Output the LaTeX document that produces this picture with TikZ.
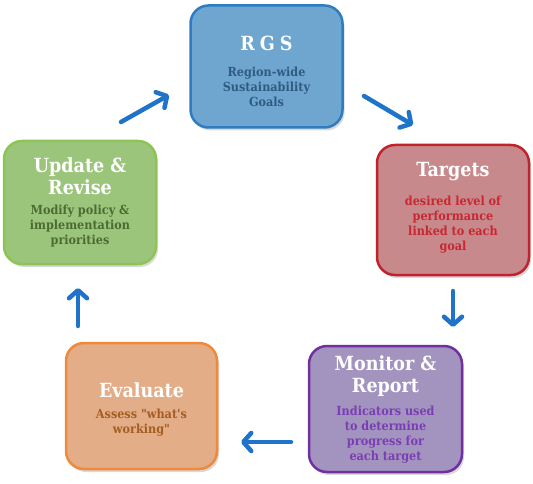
\documentclass[tikz,border=0pt]{standalone}
\usepackage{fontspec}
\setmainfont{DejaVu Serif Condensed}
\usetikzlibrary{arrows.meta,shadows}
\definecolor{rgsf}{HTML}{6EA6CF}\definecolor{rgsb}{HTML}{2E7CC1}\definecolor{rgst}{HTML}{2F5B82}
\definecolor{tarf}{HTML}{C8898C}\definecolor{tarb}{HTML}{C0232C}\definecolor{tart}{HTML}{C9272F}
\definecolor{monf}{HTML}{A394BF}\definecolor{monb}{HTML}{7030A0}\definecolor{mont}{HTML}{7B3DB3}
\definecolor{updf}{HTML}{9CC57C}\definecolor{updb}{HTML}{8DC453}\definecolor{updt}{HTML}{4B6B33}
\definecolor{evaf}{HTML}{E2AD87}\definecolor{evab}{HTML}{F0893A}\definecolor{evat}{HTML}{A65D22}
\definecolor{arr}{HTML}{1F74C9}
\begin{document}
\begin{tikzpicture}[x=1pt,y=-1pt,
  box/.style={rounded corners=18pt, line width=2.5pt, inner sep=0pt,
    drop shadow={opacity=0.3, shadow xshift=2pt, shadow yshift=-3pt}},
  ttl/.style={text=white, font=\fontsize{19.5}{22}\selectfont\bfseries, align=center, inner sep=0pt},
  sub/.style={font=\fontsize{12.5}{15}\selectfont\bfseries, align=center, inner sep=0pt},
  cyc/.style={draw=arr, line width=4.5pt, line cap=round,
    -{Straight Barb[length=8pt,width=18pt,round]}}]
\useasboundingbox (0,0) rectangle (533,484);
% boxes
\node[box, draw=rgsb, fill=rgsf, minimum width=152pt, minimum height=122pt] (rgs) at (266.5,66.5) {};
\node[box, draw=tarb, fill=tarf, minimum width=152pt, minimum height=130pt] (tar) at (453,210) {};
\node[box, draw=monb, fill=monf, minimum width=153pt, minimum height=126pt] (mon) at (385.5,409) {};
\node[box, draw=evab, fill=evaf, minimum width=151pt, minimum height=126pt] (eva) at (141.5,406) {};
\node[box, draw=updb, fill=updf, minimum width=152pt, minimum height=123pt] (upd) at (80,202.5) {};
% texts
\node[ttl] (rgsT) at (266.5,43) {R\kern5pt G\kern5pt S};
\node[sub, text=rgst] (rgsS) at (266.5,86.5) {Region-wide\\Sustainability\\Goals};
\node[ttl] (tarT) at (453,172) {Targets};
\node[sub, text=tart] (tarS) at (453,224.5) {desired level of\\performance\\linked to each\\goal};
\node[ttl] (monT) at (385.5,376) {Monitor \&\\Report};
\node[sub, text=mont] (monS) at (385.5,434.5) {Indicators used\\to determine\\progress for\\each target};
\node[ttl] (evaT) at (141.5,390) {Evaluate};
\node[sub, text=evat] (evaS) at (141.5,422.5) {Assess \textquotedbl what\textquotesingle s\\working\textquotedbl};
\node[ttl] (updT) at (80,176) {Update \&\\Revise};
\node[sub, text=updt] (updS) at (80,226) {Modify policy \&\\implementation\\priorities};
% arrows
\coordinate (a1s) at (364,96);  \coordinate (a1e) at (413,125);
\coordinate (a2s) at (453,291); \coordinate (a2e) at (453,327);
\coordinate (a3s) at (291,442); \coordinate (a3e) at (241,442);
\coordinate (a4s) at (78,326);  \coordinate (a4e) at (78,288);
\coordinate (a5s) at (121,122); \coordinate (a5e) at (169,95);
\draw[cyc] (a1s) -- (a1e);
\draw[cyc] (a2s) -- (a2e);
\draw[cyc] (a3s) -- (a3e);
\draw[cyc] (a4s) -- (a4e);
\draw[cyc] (a5s) -- (a5e);
\end{tikzpicture}
\end{document}
